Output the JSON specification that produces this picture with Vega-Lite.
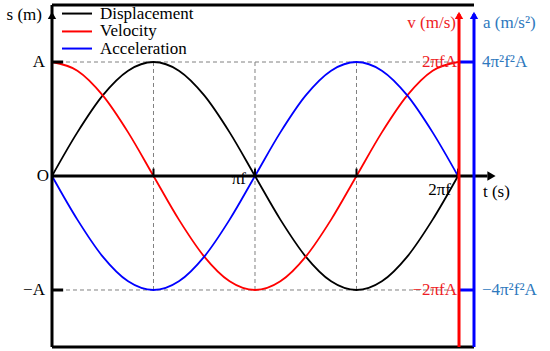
{
  "$schema": "https://vega.github.io/schema/vega-lite/v6.json",
  "width": 550,
  "height": 351,
  "autosize": "none",
  "padding": 0,
  "background": "white",
  "config": {"view": {"stroke": null}},
  "datasets": {
    "curves": [
      {"series":"Displacement","u":0,"val":0},{"series":"Displacement","u":0.25,"val":0.3827},{"series":"Displacement","u":0.5,"val":0.7071},{"series":"Displacement","u":0.75,"val":0.9239},{"series":"Displacement","u":1,"val":1},{"series":"Displacement","u":1.25,"val":0.9239},{"series":"Displacement","u":1.5,"val":0.7071},{"series":"Displacement","u":1.75,"val":0.3827},{"series":"Displacement","u":2,"val":0},{"series":"Displacement","u":2.25,"val":-0.3827},{"series":"Displacement","u":2.5,"val":-0.7071},{"series":"Displacement","u":2.75,"val":-0.9239},{"series":"Displacement","u":3,"val":-1},{"series":"Displacement","u":3.25,"val":-0.9239},{"series":"Displacement","u":3.5,"val":-0.7071},{"series":"Displacement","u":3.75,"val":-0.3827},{"series":"Displacement","u":4,"val":0},
      {"series":"Velocity","u":0,"val":1},{"series":"Velocity","u":0.25,"val":0.9239},{"series":"Velocity","u":0.5,"val":0.7071},{"series":"Velocity","u":0.75,"val":0.3827},{"series":"Velocity","u":1,"val":0},{"series":"Velocity","u":1.25,"val":-0.3827},{"series":"Velocity","u":1.5,"val":-0.7071},{"series":"Velocity","u":1.75,"val":-0.9239},{"series":"Velocity","u":2,"val":-1},{"series":"Velocity","u":2.25,"val":-0.9239},{"series":"Velocity","u":2.5,"val":-0.7071},{"series":"Velocity","u":2.75,"val":-0.3827},{"series":"Velocity","u":3,"val":0},{"series":"Velocity","u":3.25,"val":0.3827},{"series":"Velocity","u":3.5,"val":0.7071},{"series":"Velocity","u":3.75,"val":0.9239},{"series":"Velocity","u":4,"val":1},
      {"series":"Acceleration","u":0,"val":0},{"series":"Acceleration","u":0.25,"val":-0.3827},{"series":"Acceleration","u":0.5,"val":-0.7071},{"series":"Acceleration","u":0.75,"val":-0.9239},{"series":"Acceleration","u":1,"val":-1},{"series":"Acceleration","u":1.25,"val":-0.9239},{"series":"Acceleration","u":1.5,"val":-0.7071},{"series":"Acceleration","u":1.75,"val":-0.3827},{"series":"Acceleration","u":2,"val":0},{"series":"Acceleration","u":2.25,"val":0.3827},{"series":"Acceleration","u":2.5,"val":0.7071},{"series":"Acceleration","u":2.75,"val":0.9239},{"series":"Acceleration","u":3,"val":1},{"series":"Acceleration","u":3.25,"val":0.9239},{"series":"Acceleration","u":3.5,"val":0.7071},{"series":"Acceleration","u":3.75,"val":0.3827},{"series":"Acceleration","u":4,"val":0}
    ]
  },
  "layer": [
    {
      "data": {"values": [
        {"u":0,"u2":4,"v":1,"v2":1},
        {"u":0,"u2":4,"v":-1,"v2":-1},
        {"u":1,"u2":1,"v":-1,"v2":1},
        {"u":2,"u2":2,"v":-1,"v2":1},
        {"u":3,"u2":3,"v":-1,"v2":1}
      ]},
      "mark": {"type":"rule","color":"#808080","strokeWidth":1,"strokeDash":[4,3]},
      "encoding": {
        "x": {"field":"u","type":"quantitative","scale":{"domain":[-0.5123,4.9064],"nice":false,"zero":false},"axis":null},
        "x2": {"field":"u2"},
        "y": {"field":"v","type":"quantitative","scale":{"domain":[-1.5351,1.5439],"nice":false,"zero":false},"axis":null},
        "y2": {"field":"v2"}
      }
    },
    {
      "data": {"name":"curves"},
      "mark": {"type":"line","interpolate":"monotone","strokeWidth":1.8},
      "encoding": {
        "x": {"field":"u","type":"quantitative","scale":{"domain":[-0.5123,4.9064],"nice":false,"zero":false},"axis":null},
        "y": {"field":"val","type":"quantitative","scale":{"domain":[-1.5351,1.5439],"nice":false,"zero":false},"axis":null},
        "color": {"field":"series","type":"nominal","scale":{"domain":["Displacement","Velocity","Acceleration"],"range":["#000000","#ff0000","#0000ff"]},"legend":null},
        "order": {"value": 0}
      }
    },
    {
      "data": {"values": [
        {"series":"Displacement","u":0.0985,"u2":0.394,"v":1.425},
        {"series":"Velocity","u":0.0985,"u2":0.394,"v":1.268},
        {"series":"Acceleration","u":0.0985,"u2":0.394,"v":1.118}
      ]},
      "mark": {"type":"rule","strokeWidth":2},
      "encoding": {
        "x": {"field":"u","type":"quantitative","scale":{"domain":[-0.5123,4.9064],"nice":false,"zero":false},"axis":null},
        "x2": {"field":"u2"},
        "y": {"field":"v","type":"quantitative","scale":{"domain":[-1.5351,1.5439],"nice":false,"zero":false},"axis":null},
        "color": {"field":"series","type":"nominal","scale":{"domain":["Displacement","Velocity","Acceleration"],"range":["#000000","#ff0000","#0000ff"]},"legend":null}
      }
    },
    {
      "data": {"values": [
        {"u":0,"u2":0,"v":-1.5,"v2":1.5},
        {"u":0,"u2":4.1576,"v":1.5,"v2":1.5},
        {"u":0,"u2":4.1576,"v":-1.5,"v2":-1.5},
        {"u":0,"u2":4.29,"v":0,"v2":0},
        {"u":0,"u2":0.11,"v":1,"v2":1},
        {"u":0,"u2":0.11,"v":-1,"v2":-1}
      ]},
      "mark": {"type":"rule","color":"#000000","strokeWidth":3},
      "encoding": {
        "x": {"field":"u","type":"quantitative","scale":{"domain":[-0.5123,4.9064],"nice":false,"zero":false},"axis":null},
        "x2": {"field":"u2"},
        "y": {"field":"v","type":"quantitative","scale":{"domain":[-1.5351,1.5439],"nice":false,"zero":false},"axis":null},
        "y2": {"field":"v2"}
      }
    },
    {
      "data": {"values": [
        {"u":1,"v":0,"v2":0.065},
        {"u":2,"v":0,"v2":0.065},
        {"u":3,"v":0,"v2":0.065},
        {"u":4,"v":0,"v2":0.065}
      ]},
      "mark": {"type":"rule","color":"#000000","strokeWidth":2},
      "encoding": {
        "x": {"field":"u","type":"quantitative","scale":{"domain":[-0.5123,4.9064],"nice":false,"zero":false},"axis":null},
        "y": {"field":"v","type":"quantitative","scale":{"domain":[-1.5351,1.5439],"nice":false,"zero":false},"axis":null},
        "y2": {"field":"v2"}
      }
    },
    {
      "data": {"values": [
        {"u":4.01,"u2":4.1576,"v":1,"v2":1},
        {"u":4.01,"u2":4.1576,"v":-1,"v2":-1},
        {"u":4.1576,"u2":4.1576,"v":-1.5,"v2":1.42}
      ]},
      "mark": {"type":"rule","color":"#0000ff","strokeWidth":3},
      "encoding": {
        "x": {"field":"u","type":"quantitative","scale":{"domain":[-0.5123,4.9064],"nice":false,"zero":false},"axis":null},
        "x2": {"field":"u2"},
        "y": {"field":"v","type":"quantitative","scale":{"domain":[-1.5351,1.5439],"nice":false,"zero":false},"axis":null},
        "y2": {"field":"v2"}
      }
    },
    {
      "data": {"values": [
        {"u":4.01,"u2":4.01,"v":-1.5,"v2":1.42}
      ]},
      "mark": {"type":"rule","color":"#ff0000","strokeWidth":3},
      "encoding": {
        "x": {"field":"u","type":"quantitative","scale":{"domain":[-0.5123,4.9064],"nice":false,"zero":false},"axis":null},
        "x2": {"field":"u2"},
        "y": {"field":"v","type":"quantitative","scale":{"domain":[-1.5351,1.5439],"nice":false,"zero":false},"axis":null},
        "y2": {"field":"v2"}
      }
    },
    {
      "data": {"values": [
        {"axis":"s","u":0,"v":1.41},
        {"axis":"v","u":4.01,"v":1.41},
        {"axis":"a","u":4.1576,"v":1.41}
      ]},
      "mark": {"type":"point","shape":"triangle-up","filled":true,"opacity":1,"size":70},
      "encoding": {
        "x": {"field":"u","type":"quantitative","scale":{"domain":[-0.5123,4.9064],"nice":false,"zero":false},"axis":null},
        "y": {"field":"v","type":"quantitative","scale":{"domain":[-1.5351,1.5439],"nice":false,"zero":false},"axis":null},
        "color": {"field":"axis","type":"nominal","scale":{"domain":["s","v","a"],"range":["#000000","#ff0000","#0000ff"]},"legend":null}
      }
    },
    {
      "data": {"values": [{"u":4.33,"v":0}]},
      "mark": {"type":"point","shape":"triangle-right","filled":true,"opacity":1,"size":90,"color":"#000000"},
      "encoding": {
        "x": {"field":"u","type":"quantitative","scale":{"domain":[-0.5123,4.9064],"nice":false,"zero":false},"axis":null},
        "y": {"field":"v","type":"quantitative","scale":{"domain":[-1.5351,1.5439],"nice":false,"zero":false},"axis":null}
      }
    },
    {
      "data": {"values": [
        {"label":"s (m)","u":-0.0985,"v":1.412},
        {"label":"A","u":-0.069,"v":1.0},
        {"label":"O","u":-0.03,"v":0},
        {"label":"−A","u":-0.069,"v":-1.0},
        {"label":"πf","u":1.911,"v":-0.03},
        {"label":"2πf","u":3.931,"v":-0.123}
      ]},
      "mark": {"type":"text","align":"right","baseline":"middle","font":"Liberation Serif","fontSize":17,"color":"#000000"},
      "encoding": {
        "x": {"field":"u","type":"quantitative","scale":{"domain":[-0.5123,4.9064],"nice":false,"zero":false},"axis":null},
        "y": {"field":"v","type":"quantitative","scale":{"domain":[-1.5351,1.5439],"nice":false,"zero":false},"axis":null},
        "text": {"field":"label"}
      }
    },
    {
      "data": {"values": [
        {"label":"t (s)","u":4.246,"v":-0.14}
      ]},
      "mark": {"type":"text","align":"left","baseline":"middle","font":"Liberation Serif","fontSize":17,"color":"#000000"},
      "encoding": {
        "x": {"field":"u","type":"quantitative","scale":{"domain":[-0.5123,4.9064],"nice":false,"zero":false},"axis":null},
        "y": {"field":"v","type":"quantitative","scale":{"domain":[-1.5351,1.5439],"nice":false,"zero":false},"axis":null},
        "text": {"field":"label"}
      }
    },
    {
      "data": {"values": [
        {"label":"Displacement","u":0.473,"v":1.425},
        {"label":"Velocity","u":0.473,"v":1.268},
        {"label":"Acceleration","u":0.473,"v":1.118}
      ]},
      "mark": {"type":"text","align":"left","baseline":"middle","font":"Liberation Serif","fontSize":17,"color":"#000000"},
      "encoding": {
        "x": {"field":"u","type":"quantitative","scale":{"domain":[-0.5123,4.9064],"nice":false,"zero":false},"axis":null},
        "y": {"field":"v","type":"quantitative","scale":{"domain":[-1.5351,1.5439],"nice":false,"zero":false},"axis":null},
        "text": {"field":"label"}
      }
    },
    {
      "data": {"values": [
        {"label":"v (m/s)","u":3.98,"v":1.342},
        {"label":"2πfA","u":3.99,"v":1.0},
        {"label":"−2πfA","u":3.99,"v":-1.0}
      ]},
      "mark": {"type":"text","align":"right","baseline":"middle","font":"Liberation Serif","fontSize":17,"color":"#ee1c25"},
      "encoding": {
        "x": {"field":"u","type":"quantitative","scale":{"domain":[-0.5123,4.9064],"nice":false,"zero":false},"axis":null},
        "y": {"field":"v","type":"quantitative","scale":{"domain":[-1.5351,1.5439],"nice":false,"zero":false},"axis":null},
        "text": {"field":"label"}
      }
    },
    {
      "data": {"values": [
        {"label":"a (m/s²)","u":4.246,"v":1.342},
        {"label":"4π²f²A","u":4.236,"v":1.0},
        {"label":"−4π²f²A","u":4.236,"v":-1.0}
      ]},
      "mark": {"type":"text","align":"left","baseline":"middle","font":"Liberation Serif","fontSize":17,"color":"#2e78bd"},
      "encoding": {
        "x": {"field":"u","type":"quantitative","scale":{"domain":[-0.5123,4.9064],"nice":false,"zero":false},"axis":null},
        "y": {"field":"v","type":"quantitative","scale":{"domain":[-1.5351,1.5439],"nice":false,"zero":false},"axis":null},
        "text": {"field":"label"}
      }
    }
  ]
}
